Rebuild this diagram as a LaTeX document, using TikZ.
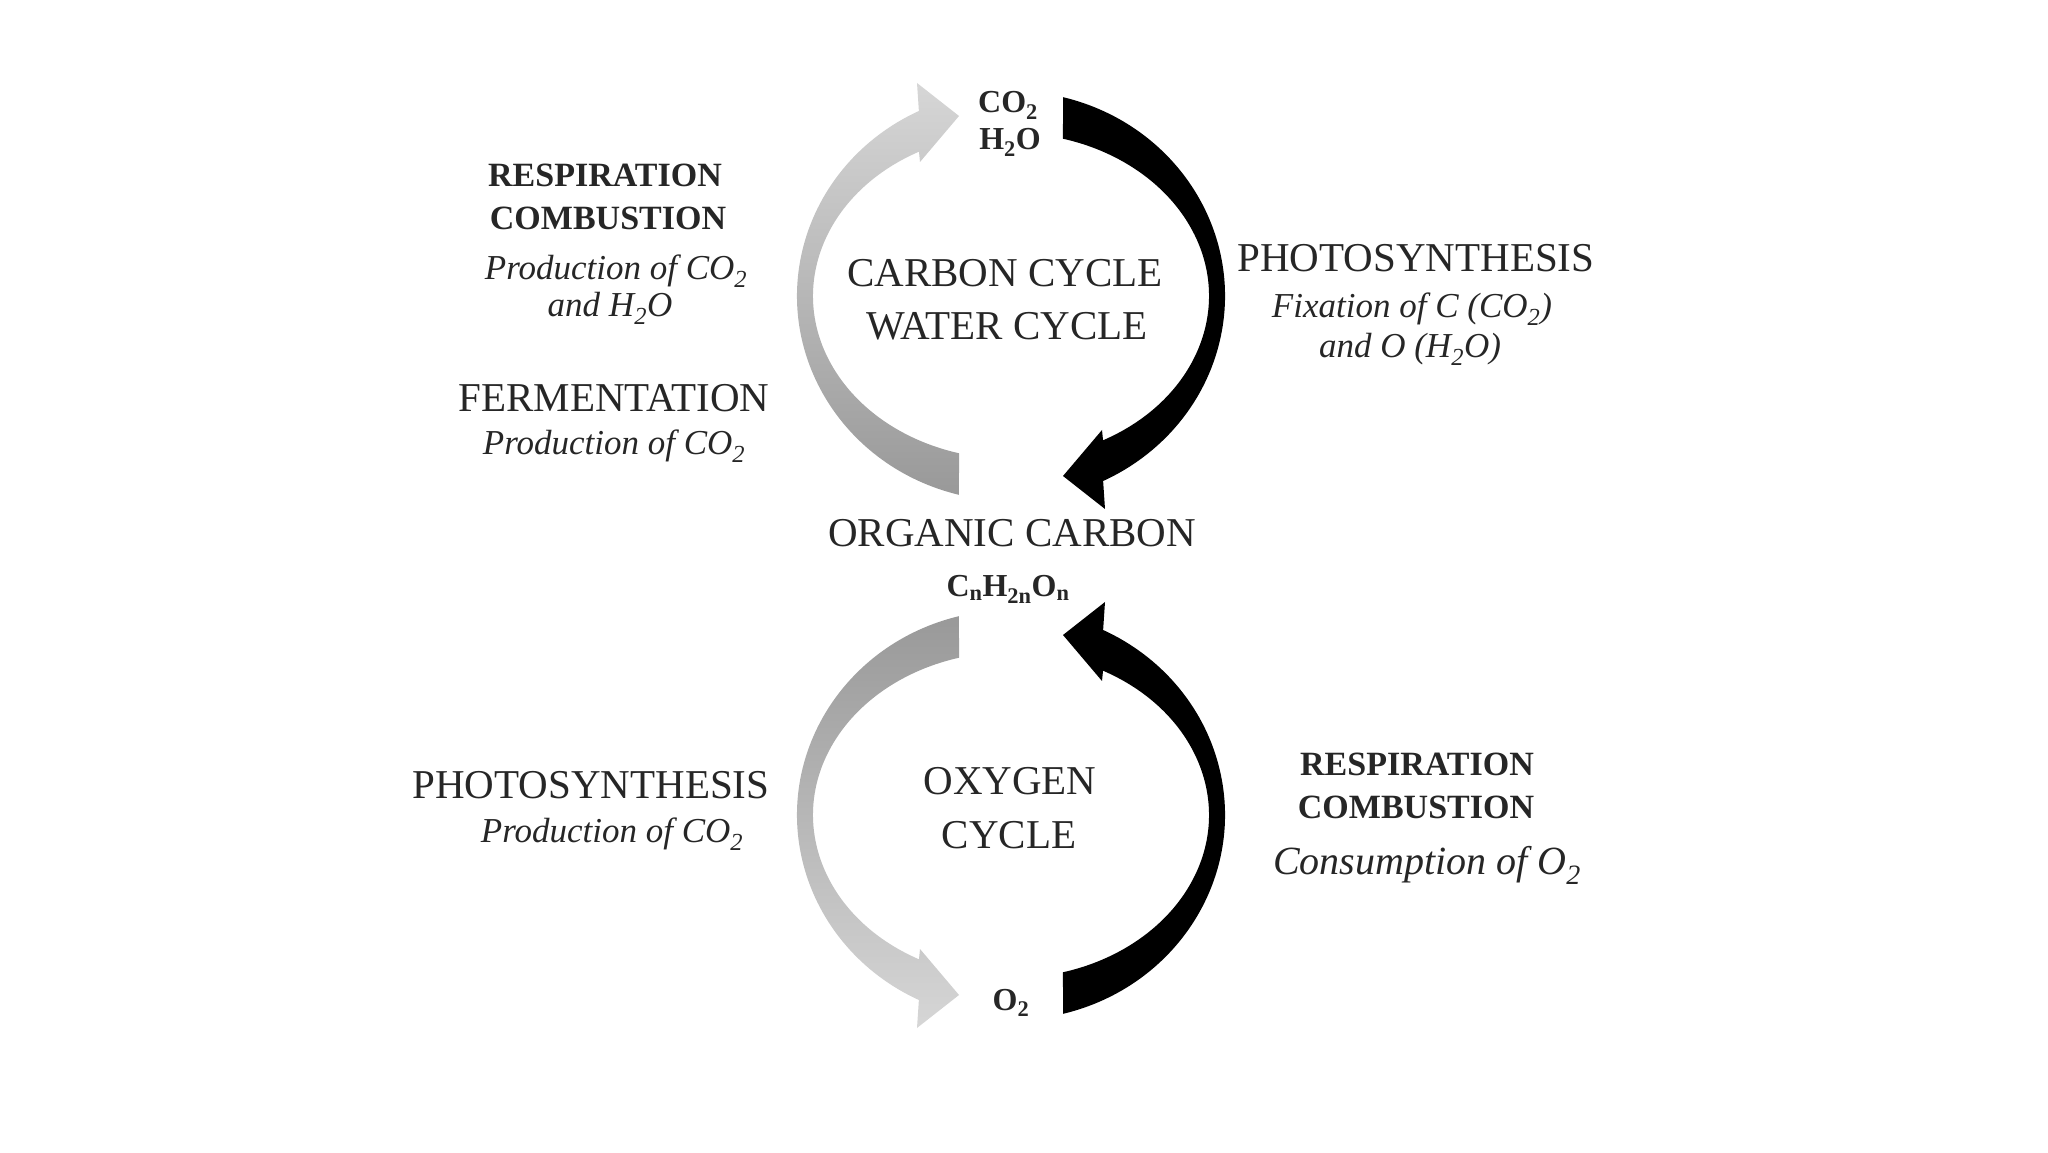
\documentclass[tikz,border=0pt]{standalone}
\usepackage{fontspec}
\setmainfont{Liberation Serif}
\usepackage{tikz}
\usetikzlibrary{positioning}

\definecolor{headgray}{gray}{0.84}
\definecolor{tailgray}{gray}{0.60}

\begin{document}
\begin{tikzpicture}[x=1pt, y=1pt,
    every node/.style={anchor=base, inner sep=0pt, text=black!85},
    cyclelabel/.style={font=\fontsize{41}{49}\selectfont},
    process/.style={font=\fontsize{41}{49}\selectfont},
    agent/.style={font=\fontsize{34}{41}\selectfont\bfseries},
    effect/.style={font=\fontsize{35}{42}\selectfont\itshape},
    species/.style={font=\fontsize{32}{38}\selectfont\bfseries}
    ]
    \useasboundingbox (0,0) rectangle (2048,1152);

    % one curved arrow: tail at the top, head at the lower right
    \def\bigarrow{(75.9:214 and 205)
        arc[start angle=75.9, end angle=-64.5, x radius=214, y radius=205]
        -- (94,-213) -- (52,-180) -- (91,-134)
        -- (-62.3:198 and 163)
        arc[start angle=-62.3, end angle=74.8, x radius=198, y radius=163] -- cycle}

    % upper ring, and the lower one as its mirror image
    \foreach \cy/\flip/\hi/\lo in {856/1/headgray/tailgray, 337/-1/tailgray/headgray} {
        \begin{scope}[shift={(1011,\cy)}, yscale=\flip]
            \fill[black] \bigarrow;
            \shade[top color=\hi, bottom color=\lo, rotate=180] \bigarrow;
        \end{scope}
    }

    % carbon and water cycle
    \node[species] (co2) at (1008,1039) {CO\textsubscript{2}};
    \node[species] (h2o) at (1010,1002) {H\textsubscript{2}O};
    \node[cyclelabel] (carbon) at (1005,865) {CARBON CYCLE};
    \node[cyclelabel] (water) at (1007,812) {WATER CYCLE};

    \node[agent] (resp1) at (605,965) {RESPIRATION};
    \node[agent] (comb1) at (608,922) {COMBUSTION};
    \node[effect] (prod1) at (616,872) {Production of CO\textsubscript{2}};
    \node[effect] (and1) at (610,835) {and H\textsubscript{2}O};
    \node[process] (ferm) at (614,740) {FERMENTATION};
    \node[effect] (prod2) at (614,697) {Production of CO\textsubscript{2}};

    \node[process] (photo1) at (1416,880) {PHOTOSYNTHESIS};
    \node[effect] (fix1) at (1412,834) {Fixation of C (CO\textsubscript{2})};
    \node[effect] (fix2) at (1410,794) {and O (H\textsubscript{2}O)};

    % organic carbon in the middle
    \node[cyclelabel] (organic) at (1012,605) {ORGANIC CARBON};
    \node[species] (formula) at (1008,555) {C\textsubscript{n}H\textsubscript{2n}O\textsubscript{n}};

    % oxygen cycle
    \node[cyclelabel] (oxygen) at (1010,357) {OXYGEN};
    \node[cyclelabel] (ocycle) at (1009,303) {CYCLE};
    \node[species] (o2) at (1011,142) {O\textsubscript{2}};

    \node[process] (photo2) at (591,353) {PHOTOSYNTHESIS};
    \node[effect] (prod3) at (612,309) {Production of CO\textsubscript{2}};

    \node[agent] (resp2) at (1417,376) {RESPIRATION};
    \node[agent] (comb2) at (1416,333) {COMBUSTION};
    \node[effect, font=\fontsize{40}{48}\selectfont\itshape] (cons) at (1427,277) {Consumption of O\textsubscript{2}};

\end{tikzpicture}
\end{document}
